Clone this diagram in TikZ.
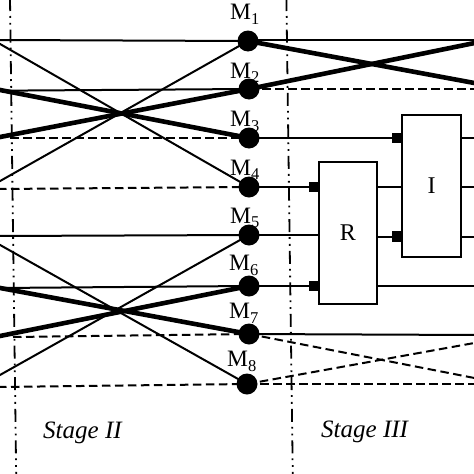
\documentclass[tikz,border=0pt]{standalone}
\usepackage{fontspec}
\setmainfont{Liberation Serif}
\usetikzlibrary{backgrounds}
\begin{document}
\begin{tikzpicture}[x=1pt,y=-1pt,
  wire/.style={line width=2pt},
  heavy/.style={line width=4.6pt},
  dashwire/.style={line width=2pt, dash pattern=on 8.5pt off 4.5pt},
  stagesep/.style={line width=1.8pt, dash pattern=on 13pt off 5pt on 1.8pt off 5pt on 1.8pt off 5pt},
  mdot/.style={circle, fill=black, inner sep=0pt, minimum size=21pt},
  port/.style={rectangle, fill=black, inner sep=0pt, minimum size=10.5pt},
  block/.style={rectangle, draw, line width=2pt, fill=white, inner sep=0pt, font=\fontsize{24}{26}\selectfont},
  mlabel/.style={anchor=base west, inner sep=0pt, font=\fontsize{23.5}{25}\selectfont},
  stagelabel/.style={anchor=base west, inner sep=0pt, font=\fontsize{25}{28}\selectfont\itshape}
]
\useasboundingbox (0,0) rectangle (474,474);

% blocks
\node[block, minimum width=58pt, minimum height=142pt] (R) at (348,233) {R};
\node[block, minimum width=59pt, minimum height=142pt] (I) at (431.5,186) {I};

% ports
\node[port] (rp1) at (314,187) {};
\node[port] (rp2) at (314,286) {};
\node[port] (ip1) at (397,138) {};
\node[port] (ip2) at (397,236.5) {};

% dots
\node[mdot] (m1) at (248,41) {};
\node[mdot] (m2) at (249,89) {};
\node[mdot] (m3) at (249,138) {};
\node[mdot] (m4) at (249,187) {};
\node[mdot] (m5) at (249,235) {};
\node[mdot] (m6) at (249,286) {};
\node[mdot] (m7) at (249,334) {};
\node[mdot] (m8) at (247,384) {};

% labels
\node[mlabel] (t1) at (230,19.5) {M\raisebox{-4.5pt}{\fontsize{16.5}{17}\selectfont 1}};
\node[mlabel] (t2) at (230,78) {M\raisebox{-4.5pt}{\fontsize{16.5}{17}\selectfont 2}};
\node[mlabel] (t3) at (230,126.5) {M\raisebox{-4.5pt}{\fontsize{16.5}{17}\selectfont 3}};
\node[mlabel] (t4) at (230,175) {M\raisebox{-4.5pt}{\fontsize{16.5}{17}\selectfont 4}};
\node[mlabel] (t5) at (230,223) {M\raisebox{-4.5pt}{\fontsize{16.5}{17}\selectfont 5}};
\node[mlabel] (t6) at (229,270.5) {M\raisebox{-4.5pt}{\fontsize{16.5}{17}\selectfont 6}};
\node[mlabel] (t7) at (229,318.5) {M\raisebox{-4.5pt}{\fontsize{16.5}{17}\selectfont 7}};
\node[mlabel] (t8) at (227,366.5) {M\raisebox{-4.5pt}{\fontsize{16.5}{17}\selectfont 8}};

\node[stagelabel] (s2) at (43,438) {Stage II};
\node[stagelabel] (s3) at (321,437) {Stage III};

% coordinates: left ends
\coordinate (h1) at (-2,40);
\coordinate (h2) at (-2,90.7);
\coordinate (h3) at (10,138);
\coordinate (h4) at (-2,189);
\coordinate (h5) at (-2,236);
\coordinate (h6) at (-2,288);
\coordinate (h7) at (13,337);
\coordinate (h8) at (-2,387);
\coordinate (ua) at (-2,42.8);
\coordinate (ub) at (-2,182.2);
\coordinate (uc) at (-2,89.6);
\coordinate (ud) at (-2,137.4);
\coordinate (la) at (-2,243.8);
\coordinate (lb) at (-2,376.1);
\coordinate (lc) at (-2,287.6);
\coordinate (ld) at (-2,336.4);
% right ends
\coordinate (e1) at (477,40);
\coordinate (e1x) at (477,83.5);
\coordinate (e2x) at (477,42.5);
\coordinate (e2) at (477,89);
\coordinate (e3) at (477,138);
\coordinate (e4) at (477,187);
\coordinate (e5) at (477,236.5);
\coordinate (e6) at (477,285.5);
\coordinate (e7) at (477,335);
\coordinate (e7x) at (477,378.5);
\coordinate (e8x) at (477,342.5);
\coordinate (e8) at (477,384);
% stage separators
\coordinate (sa1) at (10,-2);
\coordinate (sa2) at (16.2,476);
\coordinate (sb1) at (286.4,-2);
\coordinate (sb2) at (292.8,476);

\begin{scope}[on background layer]
  % stage separators
  \draw[stagesep] (sa1) -- (sa2);
  \draw[stagesep] (sb1) -- (sb2);
  % stage II horizontals
  \draw[wire] (h1) -- (m1.center);
  \draw[wire] (h2) -- (m2.center);
  \draw[dashwire] (h3) -- (m3.center);
  \draw[dashwire] (h4) -- (m4.center);
  \draw[wire] (h5) -- (m5.center);
  \draw[wire] (h6) -- (m6.center);
  \draw[dashwire] (h7) -- (m7.center);
  \draw[dashwire] (h8) -- (m8.center);
  % stage II crossings
  \draw[wire] (ua) -- (m4.center);
  \draw[wire] (ub) -- (m1.center);
  \draw[heavy] (uc) -- (m3.center);
  \draw[heavy] (ud) -- (m2.center);
  \draw[wire] (la) -- (m8.center);
  \draw[wire] (lb) -- (m5.center);
  \draw[heavy] (lc) -- (m7.center);
  \draw[heavy] (ld) -- (m6.center);
  % stage III
  \draw[wire] (m1.center) -- (m1 |- e1) -- (e1);
  \draw[heavy] (m1.center) -- (e1x);
  \draw[heavy] (m2.center) -- (e2x);
  \draw[dashwire] (m2.center) -- (e2);
  \draw[wire] (m3.center) -- (ip1);
  \draw[wire] (I.east |- e3) -- (e3);
  \draw[wire] (m4.center) -- (rp1);
  \draw[wire] (R.east |- m4) -- (I.west |- m4);
  \draw[wire] (I.east |- e4) -- (e4);
  \draw[wire] (m5.center) -- (R.west |- m5);
  \draw[wire] (R.east |- ip2) -- (ip2);
  \draw[wire] (I.east |- e5) -- (e5);
  \draw[wire] (m6.center) -- (rp2);
  \draw[wire] (R.east |- e6) -- (e6);
  \draw[wire] (m7.center) -- (e7);
  \draw[dashwire] (m7.center) -- (e7x);
  \draw[dashwire] (m8.center) -- (e8x);
  \draw[dashwire] (m8.center) -- (e8);
\end{scope}
\end{tikzpicture}
\end{document}
